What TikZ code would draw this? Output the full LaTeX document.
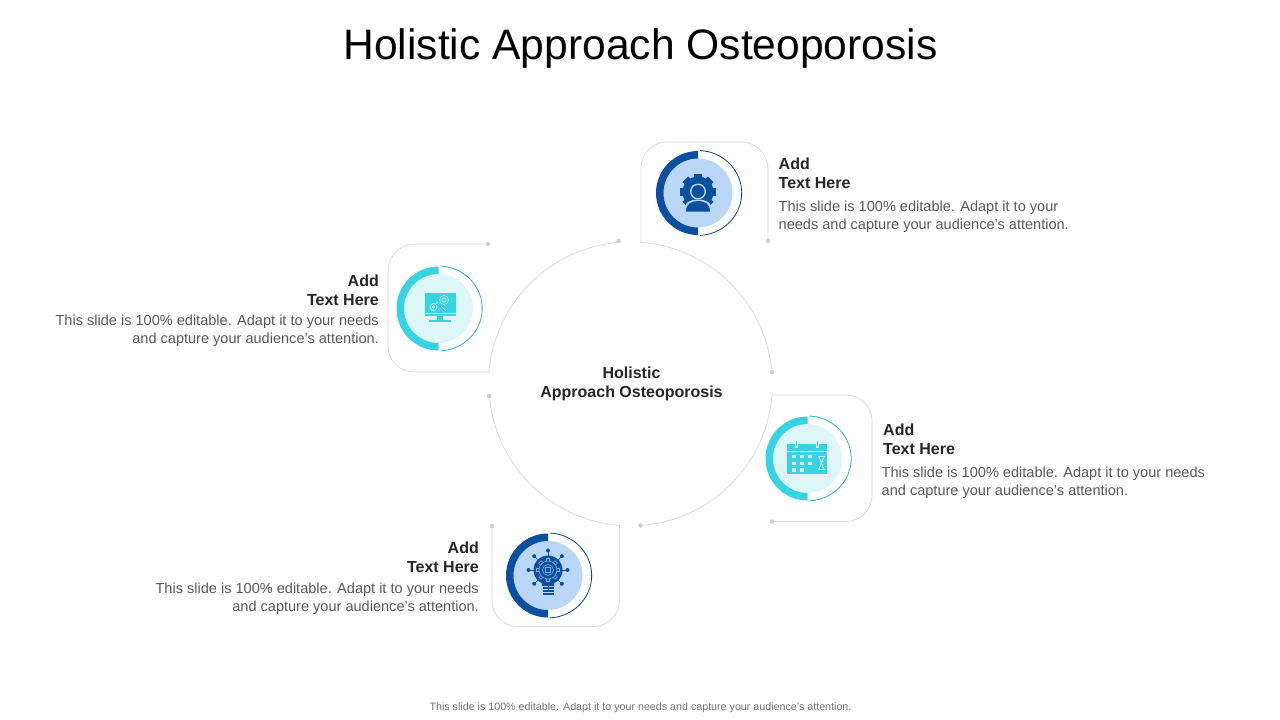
\documentclass[tikz,border=0pt]{standalone}
\usepackage{fontspec}
\setmainfont{Liberation Sans}
\definecolor{navy}{HTML}{0A4FA0}
\definecolor{paleblue}{HTML}{BBD7F8}
\definecolor{aqua}{HTML}{38D3E2}
\definecolor{paleaqua}{HTML}{DDF6F8}
\definecolor{edge}{HTML}{DADADA}
\definecolor{dotgrey}{HTML}{CFCFCF}
\definecolor{bodygrey}{HTML}{595959}
\tikzset{
	outline/.style={draw=edge, line width=0.7pt},
	enddot/.style={circle, fill=dotgrey, inner sep=0pt, minimum size=4.5pt},
	head/.style={font=\fontsize{16}{19}\selectfont\bfseries, text=black!85, align=#1, inner sep=0pt},
	body/.style={font=\fontsize{14.55}{18}\selectfont, text=bodygrey, align=#1, inner sep=0pt},
}
\begin{document}
\begin{tikzpicture}[x=1pt,y=-1pt]
	\useasboundingbox (0,0) rectangle (1280,720);
	\fill[white] (0,0) rectangle (1280,720);
	\node (title) [font=\fontsize{42.6}{50}\selectfont, text=black] at (640.5,48){Holistic Approach Osteoporosis};
	\node (foot) [font=\fontsize{10.7}{12}\selectfont, text=black!55] at (640.5,707.5){This slide is 100\% editable. Adapt it to your needs and capture your audience’s attention.};
	\node (centre) [font=\fontsize{16}{19}\selectfont\bfseries, text=black!85, align=center] at (631.5,383.5){Holistic\\Approach Osteoporosis};
	% circle pieces and panels
	\draw[outline] (768,241)--(768,169) arc[start angle=0,end angle=90,radius=27pt]--(667,142) arc[start angle=90,end angle=180,radius=26pt]--(641,242.4) arc[start angle=85.7,end angle=4.8,radius=142pt];
	\draw[outline] (772,521.5)--(846,521.5) arc[start angle=-90,end angle=0,radius=26pt]--(872,421) arc[start angle=0,end angle=90,radius=26pt]--(772,395) arc[start angle=-4.5,end angle=-86,radius=142pt];
	\draw[outline] (492,526)--(492,600.5) arc[start angle=180,end angle=270,radius=26pt]--(593.5,626.5) arc[start angle=270,end angle=360,radius=26pt]--(619.5,525.5) arc[start angle=265.4,end angle=184.8,radius=142pt];
	\draw[outline] (488,244)--(415,244) arc[start angle=90,end angle=180,radius=27pt]--(388,346) arc[start angle=180,end angle=270,radius=26pt]--(489,372) arc[start angle=175.2,end angle=94.8,radius=142pt];
	\node (dota) [enddot] at (768,241){};
	\node (dotb) [enddot] at (772,372){};
	\node (dotc) [enddot] at (772,521.5){};
	\node (dotd) [enddot] at (640.5,525.5){};
	\node (dote) [enddot] at (492,526){};
	\node (dotf) [enddot] at (489,396){};
	\node (dotg) [enddot] at (488,244){};
	\node (doth) [enddot] at (618.5,241){};
	% rings
	\foreach \cx/\cy/\ca/\cb in {698/193/navy/paleblue,438.5/308.5/aqua/paleaqua,807.5/458.5/aqua/paleaqua,548/575.5/navy/paleblue}{
		\fill[\cb] (\cx,\cy) circle (34.5);
		\fill[\ca] (\cx,\cy-42) arc[start angle=90,end angle=270,radius=42pt]--(\cx,\cy+34.5) arc[start angle=270,end angle=90,radius=34.5pt]--cycle;
		\draw[\ca!85!black, line width=0.8pt] (\cx+2,\cy-42.5) arc[start angle=87,end angle=-87,x radius=44pt,y radius=42.5pt];
	}
	% gear and person
	\foreach \a in {0,45,...,315}{\fill[navy,rotate around={\a:(698,192)}] (694,174) rectangle (702,180);}
	\fill[navy] (698,192) circle (15.5);
	\fill[paleblue] (698,191.5) circle (8);
	\fill[navy] (698,191.5) circle (6.5);
	\fill[paleblue] (684,212) .. controls (684,202) and (690,199.5) .. (698,199.5) .. controls (706,199.5) and (712,202) .. (712,212) -- cycle;
	\fill[navy] (686,211.5) .. controls (686,204) and (691,201) .. (698,201) .. controls (705,201) and (710,204) .. (710,211.5) -- cycle;
	% monitor
	\fill[aqua] (425,292.5) rectangle (455.5,316);
	\draw[paleaqua, line width=0.6pt] (425,313) -- (455.5,313);
	\draw[paleaqua, line width=0.6pt] (444,300) circle (4.5) (444,300) circle (2) (433.5,307) circle (3.5) (433.5,307) circle (1.2) (438,302)--(436,304) (441,306)--(446,311);
	\fill[aqua] (437,316) rectangle (443,319.5);
	\fill[aqua] (429,320) rectangle (451,322);
	% calendar
	\fill[aqua] (787,443.5) rectangle (827,474);
	\draw[paleaqua, line width=0.6pt] (787,451) -- (827,451);
	\foreach \kx in {796.5,817.5}{\draw[paleaqua, line width=2.4pt] (\kx,441.5) -- (\kx,447.5); \draw[aqua, line width=1pt] (\kx,441) -- (\kx,446);}
	\foreach \kx/\ky in {793.7/456.7,802/456.7,810.3/456.7,793.7/463.3,802/463.3,810.3/463.3,793.7/470,802/470}{\fill[paleaqua] (\kx-2,\ky-1.6) rectangle (\kx+2,\ky+1.6);}
	\draw[paleaqua, line width=0.8pt] (818,456.5)--(825,456.5) (818,469.5)--(825,469.5) (819,457)--(824,469) (824,457)--(819,469);
	% bulb
	\foreach \a in {0,45,90,135,180}{\draw[navy, line width=0.7pt, rotate around={\a:(548,570)}] (528.5,570) -- (567.5,570);}
	\foreach \a in {0,45,90,135,180,225,315}{\fill[navy, rotate around={\a:(548,570)}] (567.5,570) circle (2);}
	\fill[navy] (548,570) circle (14.5);
	\fill[navy] (541.5,578) -- (554.5,578) -- (554,586) -- (542,586) -- cycle;
	\foreach \a in {0,45,...,315}{\draw[paleblue!70!navy, line width=0.5pt, rotate around={\a:(548,570)}] (546.3,558.5) rectangle (549.7,562);}
	\fill[navy] (548,570) circle (9);
	\draw[paleblue!70!navy, line width=0.6pt] (548,570) circle (9) (548,570) circle (5.5);
	\draw[paleblue!70!navy, line width=0.6pt] (545.5,567.5) rectangle (550.5,572.5);
	\foreach \ky in {586.5,589.8,593}{\fill[navy] (542.5,\ky) rectangle (553.5,\ky+2.2);}
	% texts
	\node (heada) [head=left, anchor=north west] at (778.5,158){Add\\Text Here};
	\node (bodya) [body=left, anchor=north west] at (778.5,201){This slide is 100\% editable. Adapt it to your\\needs and capture your audience’s attention.};
	\node (headb) [head=left, anchor=north west] at (883,424){Add\\Text Here};
	\node (bodyb) [body=left, anchor=north west] at (881.5,467){This slide is 100\% editable. Adapt it to your needs\\and capture your audience’s attention.};
	\node (headc) [head=right, anchor=north east] at (479,542){Add\\Text Here};
	\node (bodyc) [body=right, anchor=north east] at (479,583){This slide is 100\% editable. Adapt it to your needs\\and capture your audience’s attention.};
	\node (headd) [head=right, anchor=north east] at (379,275){Add\\Text Here};
	\node (bodyd) [body=right, anchor=north east] at (379,315){This slide is 100\% editable. Adapt it to your needs\\and capture your audience’s attention.};
\end{tikzpicture}
\end{document}
